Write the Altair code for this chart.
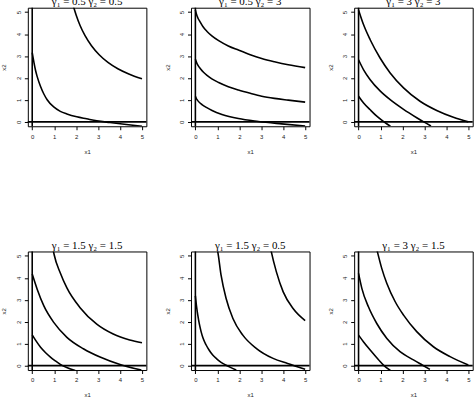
import altair as alt
import pandas as pd

titles = ["γ₁ = 0.5  γ₂ = 0.5", "γ₁ = 0.5  γ₂ = 3", "γ₁ = 3  γ₂ = 3",
          "γ₁ = 1.5  γ₂ = 1.5", "γ₁ = 1.5  γ₂ = 0.5", "γ₁ = 3  γ₂ = 1.5"]
tick_values = [0, 1, 2, 3, 4, 5]

# panel 1: g1=0.5, g2=0.5
p1a_x = [0, 0.08, 0.15, 0.23, 0.38, 0.53, 0.68, 0.98, 1.28, 1.58, 2.03, 2.48, 2.94, 3.54, 4.29, 5.0]
p1a_y = [3.15, 2.7, 2.35, 2.05, 1.61, 1.27, 1.01, 0.68, 0.48, 0.36, 0.23, 0.14, 0.05, -0.03, -0.12, -0.2]
p1c_x = [1.86, 1.91, 2.0, 2.18, 2.4, 2.7, 3.05, 3.45, 3.9, 4.4, 5.0]
p1c_y = [5.32, 5.15, 4.87, 4.39, 3.94, 3.47, 3.06, 2.71, 2.42, 2.18, 1.96]
# panel 2: g1=0.5, g2=3
p2a_x = [0, 0.05, 0.1, 0.2, 0.3, 0.5, 0.76, 1.21, 1.96, 2.87, 3.93, 5.0]
p2a_y = [1.16, 1.05, 0.98, 0.87, 0.79, 0.66, 0.52, 0.34, 0.15, 0.02, -0.09, -0.19]
p2b_x = [0, 0.05, 0.12, 0.23, 0.37, 0.53, 0.75, 1.06, 1.5, 1.96, 2.5, 3.02, 3.6, 4.23, 5.0]
p2b_y = [2.85, 2.71, 2.57, 2.42, 2.26, 2.12, 1.96, 1.79, 1.6, 1.45, 1.3, 1.17, 1.07, 0.99, 0.9]
p2c_x = [0, 0.05, 0.12, 0.2, 0.35, 0.53, 0.75, 1.06, 1.5, 1.96, 2.5, 3.02, 3.6, 4.23, 5.0]
p2c_y = [5.1, 4.9, 4.72, 4.58, 4.33, 4.12, 3.92, 3.7, 3.46, 3.27, 3.06, 2.89, 2.74, 2.6, 2.47]
# panel 3: g1=3, g2=3
p3a_x = [0, 0.23, 0.53, 0.83, 1.16, 1.45]
p3a_y = [1.17, 0.86, 0.55, 0.26, 0.0, -0.2]
p3b_x = [0, 0.23, 0.53, 0.98, 1.44, 2.05, 2.65, 2.95, 3.3]
p3b_y = [2.83, 2.37, 1.92, 1.41, 1.01, 0.57, 0.19, 0.01, -0.19]
p3c_x = [0, 0.23, 0.53, 0.98, 1.44, 2.05, 2.8, 3.56, 4.32, 5.0]
p3c_y = [5.1, 4.42, 3.74, 2.91, 2.23, 1.55, 0.94, 0.52, 0.21, 0.0]
# panel 4: g1=1.5, g2=1.5
p4a_x = [0, 0.15, 0.38, 0.6, 0.83, 1.05, 1.28, 1.6, 1.96]
p4a_y = [1.4, 1.16, 0.84, 0.6, 0.39, 0.22, 0.06, -0.1, -0.22]
p4b_x = [0, 0.23, 0.53, 0.98, 1.58, 2.33, 3.09, 4.0, 4.97]
p4b_y = [4.17, 3.47, 2.72, 1.97, 1.29, 0.77, 0.39, 0.05, -0.2]
p4c_x = [0.95, 1.0, 1.28, 1.58, 2.18, 2.94, 3.69, 4.44, 5.0]
p4c_y = [5.3, 5.05, 4.22, 3.54, 2.64, 1.89, 1.44, 1.17, 1.04]
# panel 5: g1=1.5, g2=0.5
p5a_x = [0, 0.05, 0.11, 0.18, 0.26, 0.36, 0.49, 0.63, 0.79, 0.98, 1.17, 1.4, 1.62, 1.86]
p5a_y = [3.18, 2.72, 2.3, 1.9, 1.55, 1.22, 0.94, 0.7, 0.48, 0.3, 0.15, 0.02, -0.09, -0.2]
p5b_x = [0.995, 1.02, 1.17, 1.4, 1.71, 2.16, 2.77, 3.54, 4.2, 5.0]
p5b_y = [5.3, 5.18, 4.12, 3.06, 2.15, 1.39, 0.79, 0.33, 0.1, -0.16]
p5c_x = [3.435, 3.46, 3.69, 4.0, 4.45, 5.0]
p5c_y = [5.3, 5.18, 4.27, 3.36, 2.6, 2.05]
# panel 6: g1=3, g2=1.5
p6a_x = [0, 0.23, 0.53, 0.91, 1.16, 1.45]
p6a_y = [1.39, 1.08, 0.71, 0.27, 0.0, -0.22]
p6b_x = [0, 0.15, 0.45, 0.83, 1.29, 1.89, 2.5, 2.9, 3.25]
p6b_y = [4.2, 3.52, 2.68, 1.92, 1.24, 0.64, 0.26, 0.03, -0.17]
p6c_x = [0.83, 0.86, 1.06, 1.29, 1.67, 2.05, 2.65, 3.41, 4.17, 5.0]
p6c_y = [5.3, 5.18, 4.42, 3.74, 2.91, 2.3, 1.55, 0.86, 0.41, 0.03]

curves = {
    0: [(p1a_x, p1a_y), (p1c_x, p1c_y)],
    1: [(p2a_x, p2a_y), (p2b_x, p2b_y), (p2c_x, p2c_y)],
    2: [(p3a_x, p3a_y), (p3b_x, p3b_y), (p3c_x, p3c_y)],
    3: [(p4a_x, p4a_y), (p4b_x, p4b_y), (p4c_x, p4c_y)],
    4: [(p5a_x, p5a_y), (p5b_x, p5b_y), (p5c_x, p5c_y)],
    5: [(p6a_x, p6a_y), (p6b_x, p6b_y), (p6c_x, p6c_y)],
}

W = 119.3
H = 119.3
dom = [-0.2, 5.2]

xaxis = alt.Axis(values=tick_values, domain=False, grid=False, tickSize=3.5,
                 tickColor="black", labelFontSize=6, labelFont="Liberation Sans",
                 labelColor="#222", labelPadding=3.5, title="x1", titleFontSize=6,
                 titleFont="Liberation Sans", titleFontWeight="normal",
                 titleColor="#222", titlePadding=9)
yaxis = alt.Axis(values=tick_values, domain=False, grid=False, tickSize=3.5,
                 tickColor="black", labelFontSize=6, labelFont="Liberation Sans",
                 labelColor="#222", labelPadding=2.8, labelAngle=270,
                 labelAlign="center", labelBaseline="bottom", title="x2",
                 titleFontSize=6, titleFont="Liberation Sans",
                 titleFontWeight="normal", titleColor="#222", titlePadding=8.7)


def panel(i):
    rows = []
    for k, (xs, ys) in enumerate(curves[i]):
        for j, (xv, yv) in enumerate(zip(xs, ys)):
            rows.append({"curve": k, "order": j, "x": xv, "y": yv})
    d = pd.DataFrame(rows)
    xs = alt.Scale(domain=dom, nice=False, zero=False)
    ys = alt.Scale(domain=dom, nice=False, zero=False)
    lines = alt.Chart(d).mark_line(color="black", strokeWidth=1.6, clip=True,
                                   interpolate="monotone").encode(
        x=alt.X("x:Q", scale=xs, axis=xaxis),
        y=alt.Y("y:Q", scale=ys, axis=yaxis),
        detail="curve:N",
        order="order:Q",
    )
    zero = pd.DataFrame({"v": [0]})
    vrule = alt.Chart(zero).mark_rule(color="black", strokeWidth=1.6).encode(
        x=alt.X("v:Q", scale=xs, axis=xaxis))
    hrule = alt.Chart(zero).mark_rule(color="black", strokeWidth=1.6).encode(
        y=alt.Y("v:Q", scale=ys, axis=yaxis))
    return alt.layer(lines, vrule, hrule).properties(
        width=W, height=H,
        title=alt.TitleParams(titles[i], font="Liberation Serif, DejaVu Serif",
                              fontSize=11, fontWeight="normal", color="black",
                              offset=0),
    )


chart = alt.concat(*[panel(i) for i in range(6)], columns=3,
                   spacing={"row": 125.3, "column": 44.2}, bounds="flush").properties(
    padding={"left": 0, "top": -6.5, "right": 0, "bottom": 0},
    background="white",
).configure_view(stroke="black", strokeWidth=1)

chart.save("out.html", embed_options={"renderer": "svg", "actions": False})
